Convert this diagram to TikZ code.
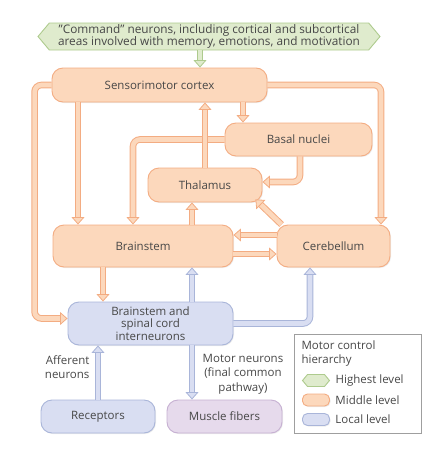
\documentclass[tikz,border=0pt]{standalone}
\usepackage{fontspec}
\setmainfont{Open Sans}
\usetikzlibrary{arrows.meta,shapes.symbols,shadows}

\definecolor{txt}{HTML}{474747}
\definecolor{ofill}{HTML}{FCD8BC}
\definecolor{oline}{HTML}{F3AC82}
\definecolor{bfill}{HTML}{D9DEF2}
\definecolor{bline}{HTML}{A9B5D9}
\definecolor{gfill}{HTML}{DFEBCD}
\definecolor{gline}{HTML}{AECB8E}
\definecolor{pfill}{HTML}{E6DAEC}
\definecolor{pline}{HTML}{C6B0D2}

\tikzset{
  box/.style={draw=#1line, fill=#1fill, line width=0.9pt, rounded corners=11pt,
    text=txt, align=center, font=\fontsize{11.5}{12.5}\selectfont,
    drop shadow={opacity=0.15, shadow xshift=1pt, shadow yshift=-1pt}},
  hexa/.style={signal, signal to=west and east, signal pointer angle=100,
    draw=gline, fill=gfill, line width=0.9pt, text=txt, align=center},
  lbl/.style={text=txt, font=\fontsize{11.5}{14.5}\selectfont},
  tube/.style={preaction={-, draw=#1line, line width=6.6pt, shorten >=5pt},
    draw=#1fill, line width=4.6pt, rounded corners=7pt,
    -{Triangle[length=7.5pt, width=13pt, line width=0.8pt, color=#1line, fill=#1fill]}},
}

\begin{document}
\begin{tikzpicture}[x=1pt, y=-1pt]
  \useasboundingbox (0,0) rectangle (441,461);

  %% highest level
  \node[hexa, minimum width=342pt, minimum height=27pt, inner sep=1pt,
    font=\fontsize{11.8}{12.5}\selectfont] (cmd) at (209,36.5)
    {"Command" neurons, including cortical and subcortical\\areas involved with memory, emotions, and motivation};

  %% middle level
  \node[box=o, minimum width=215pt, minimum height=34pt] (smc) at (159.5,85) {Sensorimotor cortex};
  \node[box=o, minimum width=147pt, minimum height=33pt] (bn) at (298.5,139.5) {Basal nuclei};
  \node[box=o, minimum width=114pt, minimum height=34pt] (thal) at (205,185) {Thalamus};
  \node[box=o, minimum width=180pt, minimum height=42pt] (bst) at (143,246) {Brainstem};
  \node[box=o, minimum width=113pt, minimum height=42pt] (cb) at (333.5,246) {Cerebellum};

  %% local level
  \node[box=b, minimum width=165pt, minimum height=43pt, inner sep=1pt] (spin) at (150.5,323.5)
    {Brainstem and\\spinal cord\\interneurons};
  \node[box=b, minimum width=114pt, minimum height=33pt] (rec) at (98,416.5) {Receptors};
  \node[box=p, minimum width=115pt, minimum height=33pt] (mus) at (224.5,416.5) {Muscle fibers};

  \node[lbl, align=right, anchor=east] (aff) at (93,367) {Afferent\\neurons};
  \node[lbl, align=center] (mn) at (243,374) {Motor neurons\\(final common\\pathway)};

  %% connections
  \draw[tube=g] (200,0 |- cmd.south) -- (200,0 |- smc.north);

  \draw[tube=o] (smc.west) -- ++(-17,0) |- ([yshift=5pt]spin.west);
  \draw[tube=o] (78,0 |- smc.south) -- (78,0 |- bst.north);
  \draw[tube=o] (bn.west) -| (133,0 |- bst.north);
  \draw[tube=o] (205,0 |- thal.north) -- (205,0 |- smc.south);
  \draw[tube=o] (243,0 |- smc.south) -- (243,0 |- bn.north);
  \draw[tube=o] (300,0 |- bn.south) |- ([yshift=3pt]thal.east);
  \draw[tube=o] (smc.east) -| (381,0 |- cb.north);
  \draw[tube=o] (192,0 |- bst.north) -- (192,0 |- thal.south);
  \draw[tube=o] ([xshift=5pt]cb.north west) -- ([shift={(-7pt,3pt)}]thal.south east);
  \draw[tube=o] ([yshift=11pt]cb.west) -- ([yshift=11pt]bst.east);
  \draw[tube=o] ([yshift=-8pt]bst.east) -- ([yshift=-8pt]cb.west);
  \draw[tube=o] (103,0 |- bst.south) -- (103,0 |- spin.north);

  \draw[tube=b] (192,0 |- spin.north) -- (192,0 |- bst.south);
  \draw[tube=b] (spin.east) -| (310,0 |- cb.south);
  \draw[tube=b] (98,0 |- rec.north) -- (98,0 |- spin.south);
  \draw[tube=b] (192,0 |- spin.south) -- (192,0 |- mus.north);

  %% legend
  \node[draw=gray!75, line width=0.9pt, minimum width=127pt, minimum height=99pt] (leg) at (357.5,383.5) {};
  \node[lbl, align=left, anchor=north west] (legt) at (298,337) {Motor control\\hierarchy};
  \node[hexa, minimum width=27pt, minimum height=12pt, inner sep=0pt] (lg) at (316,380.5) {};
  \node[box=o, minimum width=27pt, minimum height=12pt, inner sep=0pt, rounded corners=5pt] (lo) at (316,400) {};
  \node[box=b, minimum width=27pt, minimum height=12pt, inner sep=0pt, rounded corners=5pt] (lb) at (316,419.5) {};
  \node[lbl, anchor=west] (lgt) at ([xshift=2pt]lg.east) {Highest level};
  \node[lbl, anchor=west] (lot) at ([xshift=2pt]lo.east) {Middle level};
  \node[lbl, anchor=west] (lbt) at ([xshift=2pt]lb.east) {Local level};
\end{tikzpicture}
\end{document}
